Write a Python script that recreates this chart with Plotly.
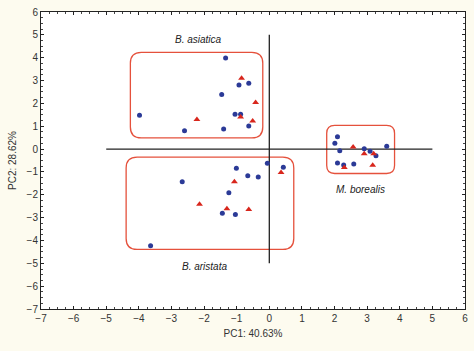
import plotly.graph_objects as go

# Blue circles (x = PC1, y = PC2)
blue_x = [-1.34, -0.93, -0.63, -1.46, -3.98, -1.05, -0.88, -2.60, -1.40, -0.63,
          -1.01, -0.06, 0.43, -2.67, -0.66, -0.34, -1.24, -1.44, -1.04, -3.64,
          2.09, 2.01, 2.16, 2.91, 3.09, 3.27, 3.60, 2.09, 2.28, 2.59]
blue_y = [3.99, 2.80, 2.88, 2.39, 1.48, 1.52, 1.52, 0.80, 0.88, 1.01,
          -0.84, -0.62, -0.80, -1.43, -1.17, -1.22, -1.91, -2.81, -2.86, -4.23,
          0.54, 0.25, -0.07, 0.01, -0.10, -0.29, 0.12, -0.61, -0.70, -0.65]
# Red triangles
red_x = [-0.85, -0.42, -0.88, -2.22, -0.51,
         0.36, -1.07, -2.14, -1.30, -0.63,
         2.57, 2.91, 3.20, 2.30, 3.17]
red_y = [3.10, 2.04, 1.40, 1.30, 1.23,
         -1.03, -1.43, -2.42, -2.61, -2.65,
         0.09, -0.20, -0.20, -0.81, -0.71]

# Group boxes: name, x0, x1, y0, y1, label x, label y
groups = ["B. asiatica", "B. aristata", "M. borealis"]
box_x0 = [-4.26, -4.39, 1.76]
box_x1 = [-0.20, 0.75, 3.84]
box_y0 = [0.49, -4.39, -1.07]
box_y1 = [4.23, -0.35, 1.04]
label_x = [-2.16, -2.0, 2.8]
label_y = [4.78, -5.13, -1.78]

x_ticks = list(range(-7, 7))
y_ticks = list(range(-7, 7))

fig = go.Figure()
fig.add_trace(go.Scatter(x=blue_x, y=blue_y, mode="markers",
                         marker=dict(symbol="circle", size=5, color="#2B3A97"),
                         showlegend=False))
fig.add_trace(go.Scatter(x=red_x, y=red_y, mode="markers",
                         marker=dict(symbol="triangle-up", size=6, color="#D8261C"),
                         showlegend=False))

# px-per-unit estimates to keep corners round
ux = 427 / 13.0
uy = 299 / 13.0

def rounded(x0, x1, y0, y1, rpx):
    rx = rpx / ux
    ry = rpx / uy
    return (f"M {x0+rx},{y0} L {x1-rx},{y0} Q {x1},{y0} {x1},{y0+ry} "
            f"L {x1},{y1-ry} Q {x1},{y1} {x1-rx},{y1} "
            f"L {x0+rx},{y1} Q {x0},{y1} {x0},{y1-ry} "
            f"L {x0},{y0+ry} Q {x0},{y0} {x0+rx},{y0} Z")

radii = [11, 11, 8]
for i in range(3):
    fig.add_shape(type="path", path=rounded(box_x0[i], box_x1[i], box_y0[i], box_y1[i], radii[i]),
                  xref="x", yref="y", line=dict(color="#E5513C", width=1.3), layer="below")
    fig.add_annotation(x=label_x[i], y=label_y[i], text=f"<i>{groups[i]}</i>", showarrow=False,
                       font=dict(family="Liberation Sans, Arial", size=10, color="#222222"))

fig.add_shape(type="line", x0=0, x1=0, y0=-5, y1=5, xref="x", yref="y",
              line=dict(color="#222222", width=1.3), layer="below")
fig.add_shape(type="line", x0=-5, x1=5, y0=0, y1=0, xref="x", yref="y",
              line=dict(color="#222222", width=1.3), layer="below")

axis_common = dict(showgrid=False, zeroline=False, showline=True, linecolor="#222222",
                   linewidth=1, mirror="ticks", ticks="inside", ticklen=3, tickcolor="#222222",
                   tickfont=dict(family="Liberation Sans, Arial", size=10, color="#333333"),
                   minor=dict(ticks="inside", ticklen=2, dtick=0.25, tickcolor="#444444"))

fig.update_xaxes(range=[-7, 6], tickvals=x_ticks, ticktext=[str(v).replace("-", "\u2212") for v in x_ticks],
                 title=dict(text="PC1: 40.63%", font=dict(family="Liberation Sans, Arial", size=10, color="#333333"), standoff=6),
                 **axis_common)
fig.update_yaxes(range=[-7, 6], tickvals=y_ticks, ticktext=[str(v).replace("-", "\u2212") for v in y_ticks],
                 title=dict(text="PC2: 28.62%", font=dict(family="Liberation Sans, Arial", size=10, color="#333333"), standoff=8),
                 **axis_common)

fig.update_layout(width=474, height=351, margin=dict(l=41, r=6, t=10, b=42),
                  paper_bgcolor="#FDFBEF", plot_bgcolor="#FFFFFF", showlegend=False)

fig.write_html("out.html")
